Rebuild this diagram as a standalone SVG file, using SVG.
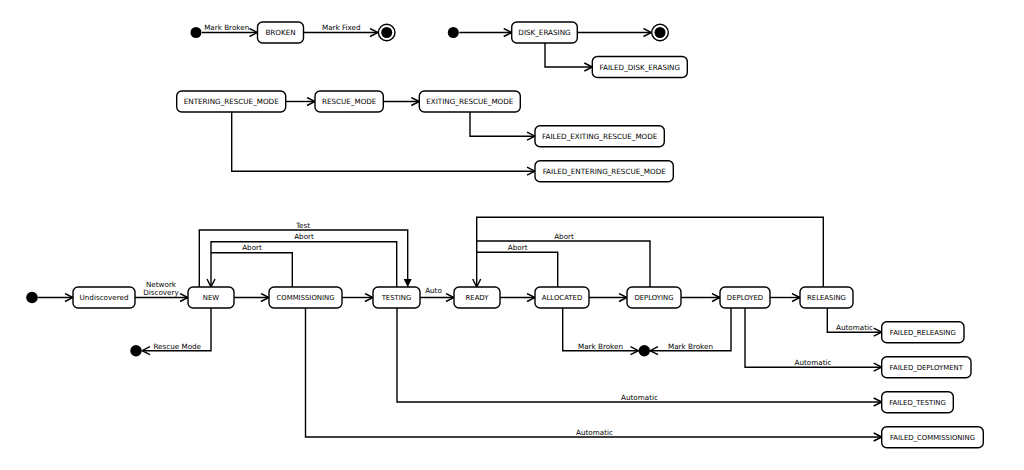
<svg xmlns="http://www.w3.org/2000/svg" width="1024" height="470" viewBox="0 0 1024 470">
<style>
.box{fill:#fff;stroke:#000;stroke-width:1.4}
.t{font-family:"DejaVu Sans",sans-serif;font-size:7.2px;fill:#000;text-anchor:middle}
.tn{font-family:"DejaVu Sans",sans-serif;font-size:6.9px;fill:#000;text-anchor:middle}
.l{font-family:"DejaVu Sans",sans-serif;font-size:7.2px;fill:#000;text-anchor:middle}
.c{fill:none;stroke:#000;stroke-width:1.4}
.a{marker-end:url(#open)}
.f{marker-end:url(#filled)}
.dot{fill:#000}
.ring{fill:#fff;stroke:#000;stroke-width:1.4}
</style>
<defs>
<marker id="open" viewBox="-9 -5 10 10" refX="0" refY="0" markerWidth="10" markerHeight="10" markerUnits="userSpaceOnUse" orient="auto">
<path d="M-8,-4 L0,0 L-8,4" fill="none" stroke="#000" stroke-width="1.4"/>
</marker>
<marker id="filled" viewBox="-9 -5 10 10" refX="0" refY="0" markerWidth="10" markerHeight="10" markerUnits="userSpaceOnUse" orient="auto">
<path d="M-8,-4 L0,0 L-8,4 z" fill="#000"/>
</marker>
</defs>
<rect width="1024" height="470" fill="#fff"/>

<g id="connectors">
<path class="c a" d="M202,32.5 L257.5,32.5"/>
<path class="c a" d="M303.5,32.5 L378,32.5"/>
<path class="c a" d="M459.3,32.5 L511.7,32.5"/>
<path class="c a" d="M577.3,32.5 L651.5,32.5"/>
<path class="c a" d="M545,43 L545,67 L592.3,67"/>
<path class="c a" d="M285.7,101.5 L315,101.5"/>
<path class="c a" d="M383.3,101.5 L419.3,101.5"/>
<path class="c a" d="M470,112 L470,136.2 L535,136.2"/>
<path class="c a" d="M231.7,112 L231.7,171.2 L535,171.2"/>

<path class="c a" d="M38,297.5 L73,297.5"/>
<path class="c a" d="M135,297.5 L188,297.5"/>
<path class="c a" d="M234,297.5 L269,297.5"/>
<path class="c a" d="M342,297.5 L373,297.5"/>
<path class="c a" d="M420,297.5 L454,297.5"/>
<path class="c a" d="M500,297.5 L535,297.5"/>
<path class="c a" d="M589,297.5 L627,297.5"/>
<path class="c a" d="M681,297.5 L720,297.5"/>
<path class="c a" d="M770,297.5 L800,297.5"/>

<path class="c f" d="M199.3,287 L199.3,230 L407.7,230 L407.7,287"/>
<path class="c a" d="M396.7,287 L396.7,241.7 L211,241.7 L211,287"/>
<path class="c" d="M292.3,287 L292.3,252.7 L211,252.7"/>
<path class="c a" d="M211,308 L211,350.7 L142,350.7"/>

<path class="c a" d="M823.3,287 L823.3,217.3 L476.7,217.3 L476.7,287"/>
<path class="c" d="M650,287 L650,241 L476.7,241"/>
<path class="c" d="M557.7,287 L557.7,252.3 L476.7,252.3"/>

<path class="c a" d="M562.7,308 L562.7,350.7 L638.5,350.7"/>
<path class="c a" d="M731,308 L731,350.7 L650,350.7"/>
<path class="c a" d="M745,308 L745,367.2 L881.7,367.2"/>
<path class="c a" d="M827.3,308 L827.3,332.2 L881.7,332.2"/>
<path class="c a" d="M397,308 L397,402 L881.7,402"/>
<path class="c a" d="M305.5,308 L305.5,437 L881.7,437"/>

<text class="l" x="226.7" y="29.5">Mark Broken</text>
<text class="l" x="341.3" y="29.5">Mark Fixed</text>
<text class="l" x="161" y="286.5">Network</text>
<text class="l" x="161" y="295">Discovery</text>
<text class="l" x="433.5" y="293">Auto</text>
<text class="l" x="303" y="227.5">Test</text>
<text class="l" x="304" y="239">Abort</text>
<text class="l" x="252" y="250">Abort</text>
<text class="l" x="177.2" y="348.5">Rescue Mode</text>
<text class="l" x="564" y="238.5">Abort</text>
<text class="l" x="517.7" y="250">Abort</text>
<text class="l" x="600.5" y="348.5">Mark Broken</text>
<text class="l" x="690.5" y="348.5">Mark Broken</text>
<text class="l" x="854.5" y="329.5">Automatic</text>
<text class="l" x="813" y="364.5">Automatic</text>
<text class="l" x="639.5" y="399.5">Automatic</text>
<text class="l" x="594.5" y="434.5">Automatic</text>
</g>

<g id="init_broken"><circle class="dot" cx="196" cy="32.5" r="5.5"/></g>
<g id="BROKEN"><rect class="box" x="257.5" y="22" width="46" height="21" rx="5"/><text class="t" x="280.5" y="35">BROKEN</text></g>
<g id="final_broken"><circle class="ring" cx="386.7" cy="32.5" r="8.3"/><circle class="dot" cx="386.7" cy="32.5" r="5.5"/></g>

<g id="init_disk"><circle class="dot" cx="453.3" cy="32.5" r="5.5"/></g>
<g id="DISK_ERASING"><rect class="box" x="511.7" y="22" width="65.6" height="21" rx="5"/><text class="t" x="544.5" y="35">DISK_ERASING</text></g>
<g id="final_disk"><circle class="ring" cx="660" cy="32.5" r="8.3"/><circle class="dot" cx="660" cy="32.5" r="5.5"/></g>
<g id="FAILED_DISK_ERASING"><rect class="box" x="592.3" y="56.5" width="95" height="21" rx="5"/><text class="t" x="639.8" y="69.5">FAILED_DISK_ERASING</text></g>

<g id="ENTERING_RESCUE_MODE"><rect class="box" x="176.7" y="91" width="109" height="21" rx="5"/><text class="t" x="231.2" y="104">ENTERING_RESCUE_MODE</text></g>
<g id="RESCUE_MODE"><rect class="box" x="315" y="91" width="68.3" height="21" rx="5"/><text class="t" x="349.2" y="104">RESCUE_MODE</text></g>
<g id="EXITING_RESCUE_MODE"><rect class="box" x="419.3" y="91" width="101" height="21" rx="5"/><text class="t" x="469.8" y="104">EXITING_RESCUE_MODE</text></g>
<g id="FAILED_EXITING_RESCUE_MODE"><rect class="box" x="535" y="125.7" width="129.3" height="21" rx="5"/><text class="t" x="599.7" y="138.7">FAILED_EXITING_RESCUE_MODE</text></g>
<g id="FAILED_ENTERING_RESCUE_MODE"><rect class="box" x="535" y="160.7" width="138.3" height="21" rx="5"/><text class="t" x="604.2" y="173.7">FAILED_ENTERING_RESCUE_MODE</text></g>

<g id="init_main"><circle class="dot" cx="32" cy="297.5" r="5.8"/></g>
<g id="Undiscovered"><rect class="box" x="73" y="287" width="62" height="21" rx="5"/><text class="l" x="104" y="300">Undiscovered</text></g>
<g id="NEW"><rect class="box" x="188" y="287" width="46" height="21" rx="5"/><text class="tn" x="211" y="300">NEW</text></g>
<g id="COMMISSIONING"><rect class="box" x="269" y="287" width="73" height="21" rx="5"/><text class="tn" x="305.5" y="300">COMMISSIONING</text></g>
<g id="TESTING"><rect class="box" x="373" y="287" width="47" height="21" rx="5"/><text class="tn" x="396.5" y="300">TESTING</text></g>
<g id="READY"><rect class="box" x="454" y="287" width="46" height="21" rx="5"/><text class="tn" x="477" y="300">READY</text></g>
<g id="ALLOCATED"><rect class="box" x="535" y="287" width="54" height="21" rx="5"/><text class="tn" x="562" y="300">ALLOCATED</text></g>
<g id="DEPLOYING"><rect class="box" x="627" y="287" width="54" height="21" rx="5"/><text class="tn" x="654" y="300">DEPLOYING</text></g>
<g id="DEPLOYED"><rect class="box" x="720" y="287" width="50" height="21" rx="5"/><text class="tn" x="745" y="300">DEPLOYED</text></g>
<g id="RELEASING"><rect class="box" x="800" y="287" width="53" height="21" rx="5"/><text class="tn" x="826.5" y="300">RELEASING</text></g>
<g id="rescue_end"><circle class="dot" cx="136" cy="350.7" r="5.7"/></g>
<g id="broken_end"><circle class="dot" cx="644.3" cy="350.7" r="5.7"/></g>
<g id="FAILED_RELEASING"><rect class="box" x="881.7" y="321.7" width="82.3" height="21" rx="5"/><text class="tn" x="922.8" y="334.7">FAILED_RELEASING</text></g>
<g id="FAILED_DEPLOYMENT"><rect class="box" x="881.7" y="356.7" width="89.3" height="21" rx="5"/><text class="tn" x="926.3" y="369.7">FAILED_DEPLOYMENT</text></g>
<g id="FAILED_TESTING"><rect class="box" x="881.7" y="391.7" width="71.6" height="21" rx="5"/><text class="tn" x="917.5" y="404.7">FAILED_TESTING</text></g>
<g id="FAILED_COMMISSIONING"><rect class="box" x="881.7" y="426.7" width="101.6" height="21" rx="5"/><text class="tn" x="932.5" y="439.7">FAILED_COMMISSIONING</text></g>
</svg>
